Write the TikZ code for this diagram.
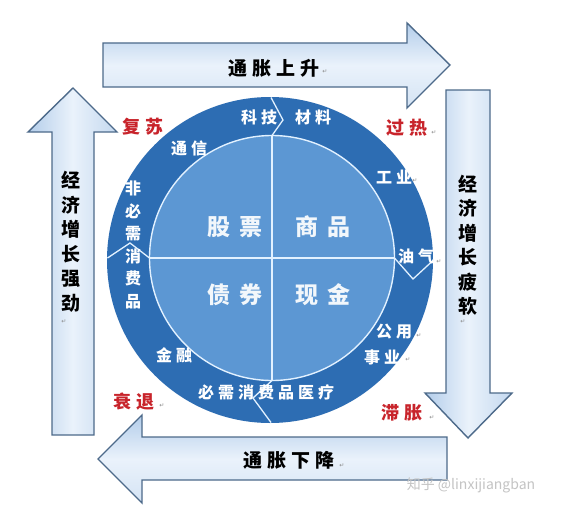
\documentclass[tikz,border=0pt]{standalone}
\usepackage{fontspec}
\newfontfamily\cjk{Noto Sans CJK SC}
\newfontfamily\cjkA[LetterSpace=25]{Noto Sans CJK SC}
\newfontfamily\cjkB[LetterSpace=35]{Noto Sans CJK SC}
\newfontfamily\dv{DejaVu Sans}
\definecolor{ringblue}{HTML}{2D6DB3}
\definecolor{innerblue}{HTML}{5C97D3}
\definecolor{linewhite}{HTML}{E2F1FF}
\definecolor{arrowedge}{HTML}{4D6A8A}
\definecolor{arrowdark}{HTML}{B3CDEA}
\definecolor{arrowlight}{HTML}{EAF2FB}
\definecolor{redlab}{HTML}{C8242B}
\definecolor{markgray}{HTML}{8A8A8A}
\definecolor{wmgray}{HTML}{C4C4C4}
\begin{document}
\begin{tikzpicture}[x=1pt,y=-1pt,
  blockarrowh/.style={draw=arrowedge,line width=1.4pt,line join=miter,top color=arrowdark,bottom color=arrowlight!60!arrowdark,middle color=arrowlight},
  blockarrowv/.style={draw=arrowedge,line width=1.4pt,line join=miter,left color=arrowdark,right color=arrowdark!70!arrowlight,middle color=arrowlight},
  ringlab/.style={text=white,font=\cjkA\bfseries\fontsize{16}{16}\selectfont,inner sep=0pt},
  ringvert/.style={text=white,font=\cjk\bfseries\fontsize{16}{22.5}\selectfont,align=center,inner sep=0pt},
  centerlab/.style={text=white!92!innerblue,font=\cjkB\bfseries\fontsize{23}{23}\selectfont,inner sep=0pt},
  redlabel/.style={text=redlab,font=\cjkA\bfseries\fontsize{18}{18}\selectfont,inner sep=0pt},
  arrowlab/.style={text=black,font=\cjkA\bfseries\fontsize{19}{19}\selectfont,inner sep=0pt},
  arrowvert/.style={text=black,font=\cjk\bfseries\fontsize{19}{24.5}\selectfont,align=center,inner sep=0pt},
  pmark/.style={text=markgray,font=\dv\fontsize{6}{6}\selectfont,inner sep=0pt},
  divline/.style={draw=linewhite,line width=1.3pt,line join=miter}
]
\useasboundingbox[fill=white] (0,0) rectangle (562,511);

% block arrows
\path[blockarrowh] (103,43) -- (407,43) -- (407,23) -- (450,65) -- (407,108) -- (407,87) -- (103,87) -- cycle;
\path[blockarrowv] (446,90) -- (490,90) -- (490,393) -- (512,393) -- (468,438) -- (425,393) -- (446,393) -- cycle;
\path[blockarrowh] (447,437) -- (447,480) -- (142,480) -- (142,503) -- (98,459) -- (142,415) -- (142,437) -- cycle;
\path[blockarrowv] (52,435) -- (52,132) -- (28,132) -- (73,88) -- (117,132) -- (94,132) -- (94,435) -- cycle;

% circles
\fill[ringblue] (270,260) circle[radius=163pt];
\filldraw[fill=innerblue,draw=linewhite,line width=1.4pt] (272,258) circle[radius=122.5pt];
\coordinate (ctr) at (272,258);
\coordinate (itop) at (272,135.5);
\coordinate (ibot) at (272,380.5);
\coordinate (ileft) at (149.5,258);
\coordinate (iright) at (394.5,258);
\draw[divline] (itop) -- (ibot);
\draw[divline] (ileft) -- (iright);
% ring dividers
\draw[divline] (itop) -- (283,120) -- (271,97.5);
\draw[divline] (ileft) -- (130,243) -- (107.5,258);
\draw[divline] (iright) -- (413,279) -- (432.5,261);
\draw[divline] (ibot) -- (253,398) -- (271,422.5);

% centre labels
\node[centerlab] (gp) at (235,227) {股票};
\node[centerlab] (sp) at (323,227) {商品};
\node[centerlab] (zq) at (235,295) {债券};
\node[centerlab] (xj) at (323,295) {现金};

% ring labels
\node[ringlab] (kj) at (259,117) {科技};
\node[ringlab] (cl) at (313,117) {材料};
\node[ringlab] (tx) at (189,148) {通信};
\node[ringvert] (fbx) at (133,245) {非\\必\\需\\消\\费\\品};
\node[ringlab] (gy) at (394,177) {工业};
\node[ringlab] (yq) at (416,256) {油气};
\node[ringlab] (gyy) at (394,332) {公用};
\node[ringlab] (sy) at (382,357) {事业};
\node[ringlab] (jr) at (174,355) {金融};
\node[ringlab] (bx) at (266,392) {必需消费品医疗};

% red phase labels
\node[redlabel] (fs) at (143,127) {复苏};
\node[redlabel] (gr) at (407,128) {过热};
\node[redlabel] (st) at (134,402) {衰退};
\node[redlabel] (zz) at (402,413) {滞胀};

% arrow labels
\node[arrowlab] (tzs) at (274,68) {通胀上升};
\node[arrowlab] (tzx) at (289,460) {通胀下降};
\node[arrowvert] (jjq) at (71,242) {经\\济\\增\\长\\强\\劲};
\node[arrowvert] (jjp) at (468,245) {经\\济\\增\\长\\疲\\软};

% paragraph marks
\node[pmark] (m1) at (325,72) {↵};
\node[pmark] (m2) at (434,133) {↵};
\node[pmark] (m3) at (415,181) {↵};
\node[pmark] (m4) at (439,262) {↵};
\node[pmark] (m5) at (419,336) {↵};
\node[pmark] (m6) at (408,360) {↵};
\node[pmark] (m7) at (432,418) {↵};
\node[pmark] (m8) at (342,466) {↵};
\node[pmark] (m9) at (162,406) {↵};
\node[pmark] (m10) at (64,322) {↵};
\node[pmark] (m11) at (463,322) {↵};

% watermark
\node[text=wmgray,font=\cjk\fontsize{14}{14}\selectfont,inner sep=0pt] (wm) at (471,485) {知乎 @linxijiangban};
\end{tikzpicture}
\end{document}
